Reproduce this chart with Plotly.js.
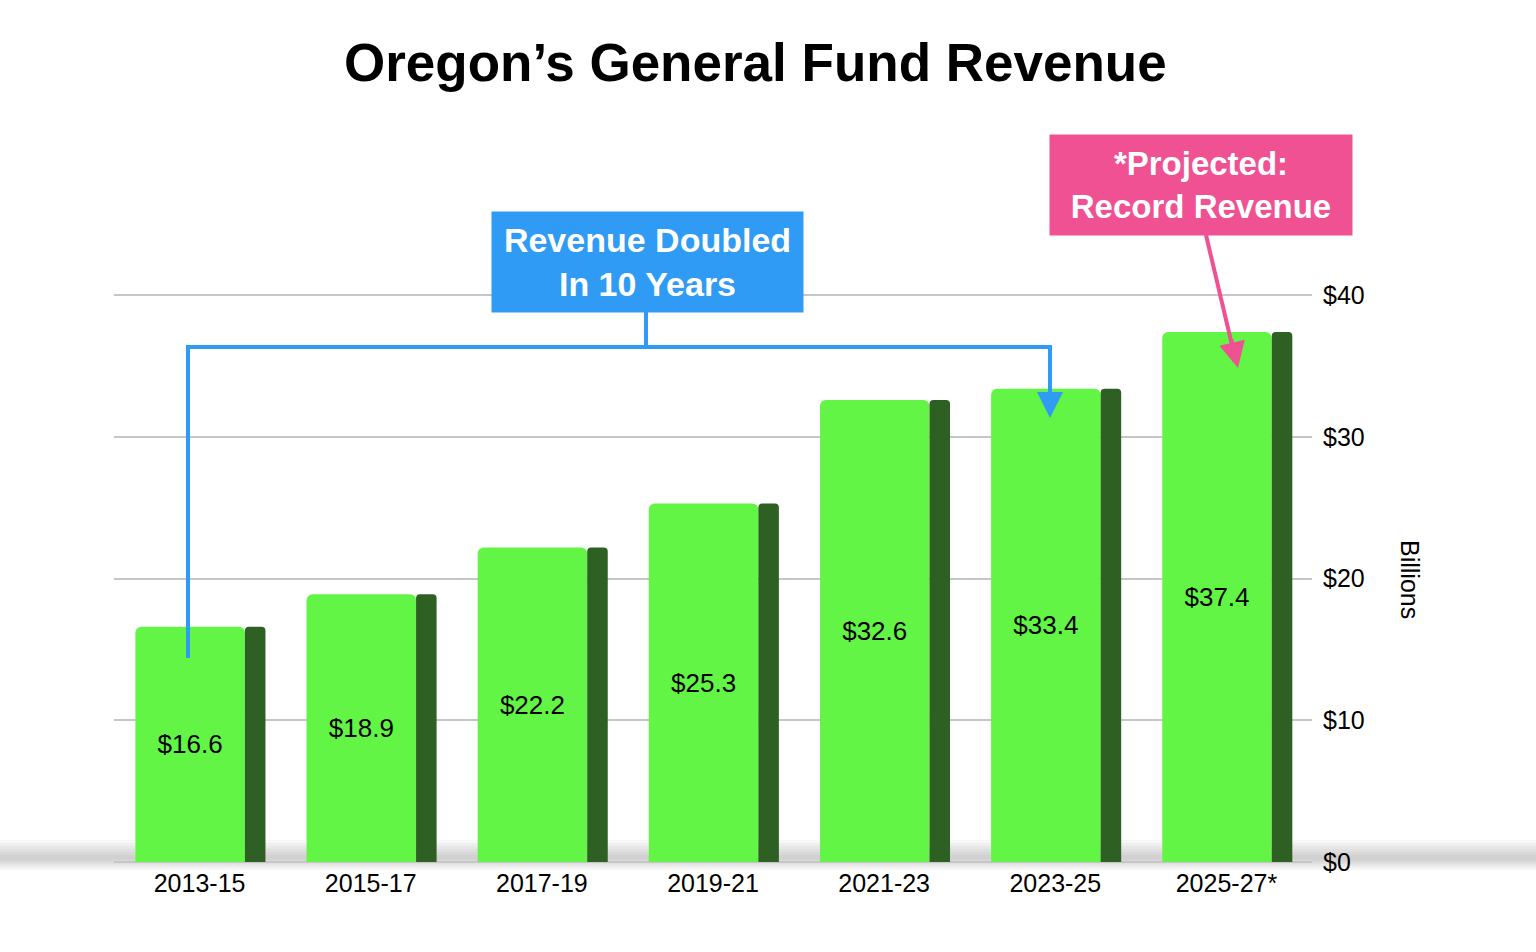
<!DOCTYPE html>
<html>
<head>
<meta charset="utf-8">
<script src="https://cdn.plot.ly/plotly-3.0.1.min.js"></script>
<style>
  html, body { margin: 0; padding: 0; background: #ffffff; }
  #chart { width: 1536px; height: 952px; }
</style>
</head>
<body>
<div id="chart"></div>
<script>
// Biennium labels and General Fund revenue, in billions of dollars
const biennia = ["2013-15", "2015-17", "2017-19", "2019-21", "2021-23", "2023-25", "2025-27*"];
const revenue = [16.6, 18.9, 22.2, 25.3, 32.6, 33.4, 37.4];
const tickValues = [0, 10, 20, 30, 40];
const tickLabels = ["$0", "$10", "$20", "$30", "$40"];

const W = 1536, H = 952;
const M = { l: 114, r: 224, t: 294, b: 90 };
const PW = W - M.l - M.r, PH = H - M.t - M.b;
// pixel -> paper coordinate helpers for the callout graphics
const px = x => (x - M.l) / PW;
const py = y => (H - M.b - y) / PH;

const FONT = "Liberation Sans, Arial, Helvetica, sans-serif";
const GREEN = "#62f545";
const GREEN_SIDE = "#2e6023";
const BLUE = "#2f9bf5";
const PINK = "#ef5192";

const front = {
  type: "bar",
  x: biennia,
  y: revenue,
  offset: -0.375,
  width: 0.64,
  marker: { color: GREEN, cornerradius: 6, line: { width: 0 } },
  text: revenue.map(v => "$" + v.toFixed(1)),
  textposition: "inside",
  insidetextanchor: "middle",
  textangle: 0,
  constraintext: "none",
  insidetextfont: { family: FONT, size: 26, color: "#000000" },
  hoverinfo: "skip",
  showlegend: false
};

// darker right-hand face giving each column its depth
const side = {
  type: "bar",
  x: biennia,
  y: revenue,
  offset: 0.265,
  width: 0.12,
  marker: { color: GREEN_SIDE, cornerradius: 4, line: { width: 0 } },
  hoverinfo: "skip",
  showlegend: false
};

// soft floor shadow under the columns
const shadowBands = [];
for (let i = 0; i < 6; i++) {
  shadowBands.push({
    type: "rect", xref: "paper", yref: "paper", layer: "below",
    x0: px(0), x1: px(W),
    y0: py(870 - i * 2), y1: py(840 + i * 3),
    fillcolor: "rgba(0,0,0,0.03)", line: { width: 0 }
  });
}

const line = (x0, y0, x1, y1, color) => ({
  type: "line", xref: "paper", yref: "paper",
  x0: px(x0), y0: py(y0), x1: px(x1), y1: py(y1),
  line: { color: color, width: 4 }
});

const shapes = shadowBands.concat([
  line(646, 312, 646, 347, BLUE),
  line(186, 347, 1052, 347, BLUE),
  line(188, 345, 188, 658, BLUE),
  line(1050, 345, 1050, 400, BLUE),
  line(1206, 235, 1232, 345, PINK)
]);

const layout = {
  width: W, height: H,
  margin: M,
  paper_bgcolor: "#ffffff",
  plot_bgcolor: "#ffffff",
  barmode: "overlay",
  font: { family: FONT, color: "#000000" },
  xaxis: {
    type: "category",
    range: [-0.5, 6.5],
    showgrid: false, zeroline: false, showline: false,
    ticks: "",
    tickfont: { family: FONT, size: 25, color: "#000000" },
    ticklabelstandoff: 4
  },
  yaxis: {
    side: "right",
    range: [0, 40.08],
    tickvals: tickValues,
    ticktext: tickLabels,
    tickfont: { family: FONT, size: 25, color: "#000000" },
    showgrid: true, gridcolor: "#c6c6c6", gridwidth: 2,
    zeroline: true, zerolinecolor: "#c6c6c6", zerolinewidth: 2,
    showline: false, ticks: "",
    ticklabelstandoff: 10
  },
  shapes: shapes,
  annotations: [
    {
      text: "<b>Oregon’s General Fund Revenue</b>",
      xref: "paper", yref: "paper", x: px(755), y: py(62),
      xanchor: "center", yanchor: "middle", showarrow: false,
      font: { family: FONT, size: 53, color: "#000000" }
    },
    {
      text: "Billions",
      xref: "paper", yref: "paper", x: px(1410), y: py(580),
      xanchor: "center", yanchor: "middle", showarrow: false,
      textangle: 90,
      font: { family: FONT, size: 25, color: "#000000" }
    },
    {
      text: "<b>Revenue Doubled<br>In 10 Years</b>",
      xref: "paper", yref: "paper", x: px(647), y: py(262),
      xanchor: "center", yanchor: "middle", showarrow: false,
      width: 311, height: 100, borderpad: 0,
      bgcolor: BLUE,
      font: { family: FONT, size: 34, color: "#ffffff" }
    },
    {
      text: "<b>*Projected:<br>Record Revenue</b>",
      xref: "paper", yref: "paper", x: px(1201), y: py(185),
      xanchor: "center", yanchor: "middle", showarrow: false,
      width: 302, height: 100, borderpad: 0,
      bgcolor: PINK,
      font: { family: FONT, size: 33, color: "#ffffff" }
    },
    {
      // blue arrowhead into the 2023-25 column
      text: "", xref: "paper", yref: "paper",
      x: px(1050), y: py(418), ax: 0, ay: -40,
      showarrow: true, arrowhead: 2, arrowsize: 1.3, arrowwidth: 4,
      arrowcolor: BLUE, standoff: 0
    },
    {
      // pink arrowhead into the projected column
      text: "", xref: "paper", yref: "paper",
      x: px(1238), y: py(368), ax: -7, ay: -30,
      showarrow: true, arrowhead: 2, arrowsize: 1.3, arrowwidth: 4,
      arrowcolor: PINK, standoff: 0
    }
  ]
};

Plotly.newPlot("chart", [front, side], layout, { displayModeBar: false, staticPlot: true });
</script>
</body>
</html>
